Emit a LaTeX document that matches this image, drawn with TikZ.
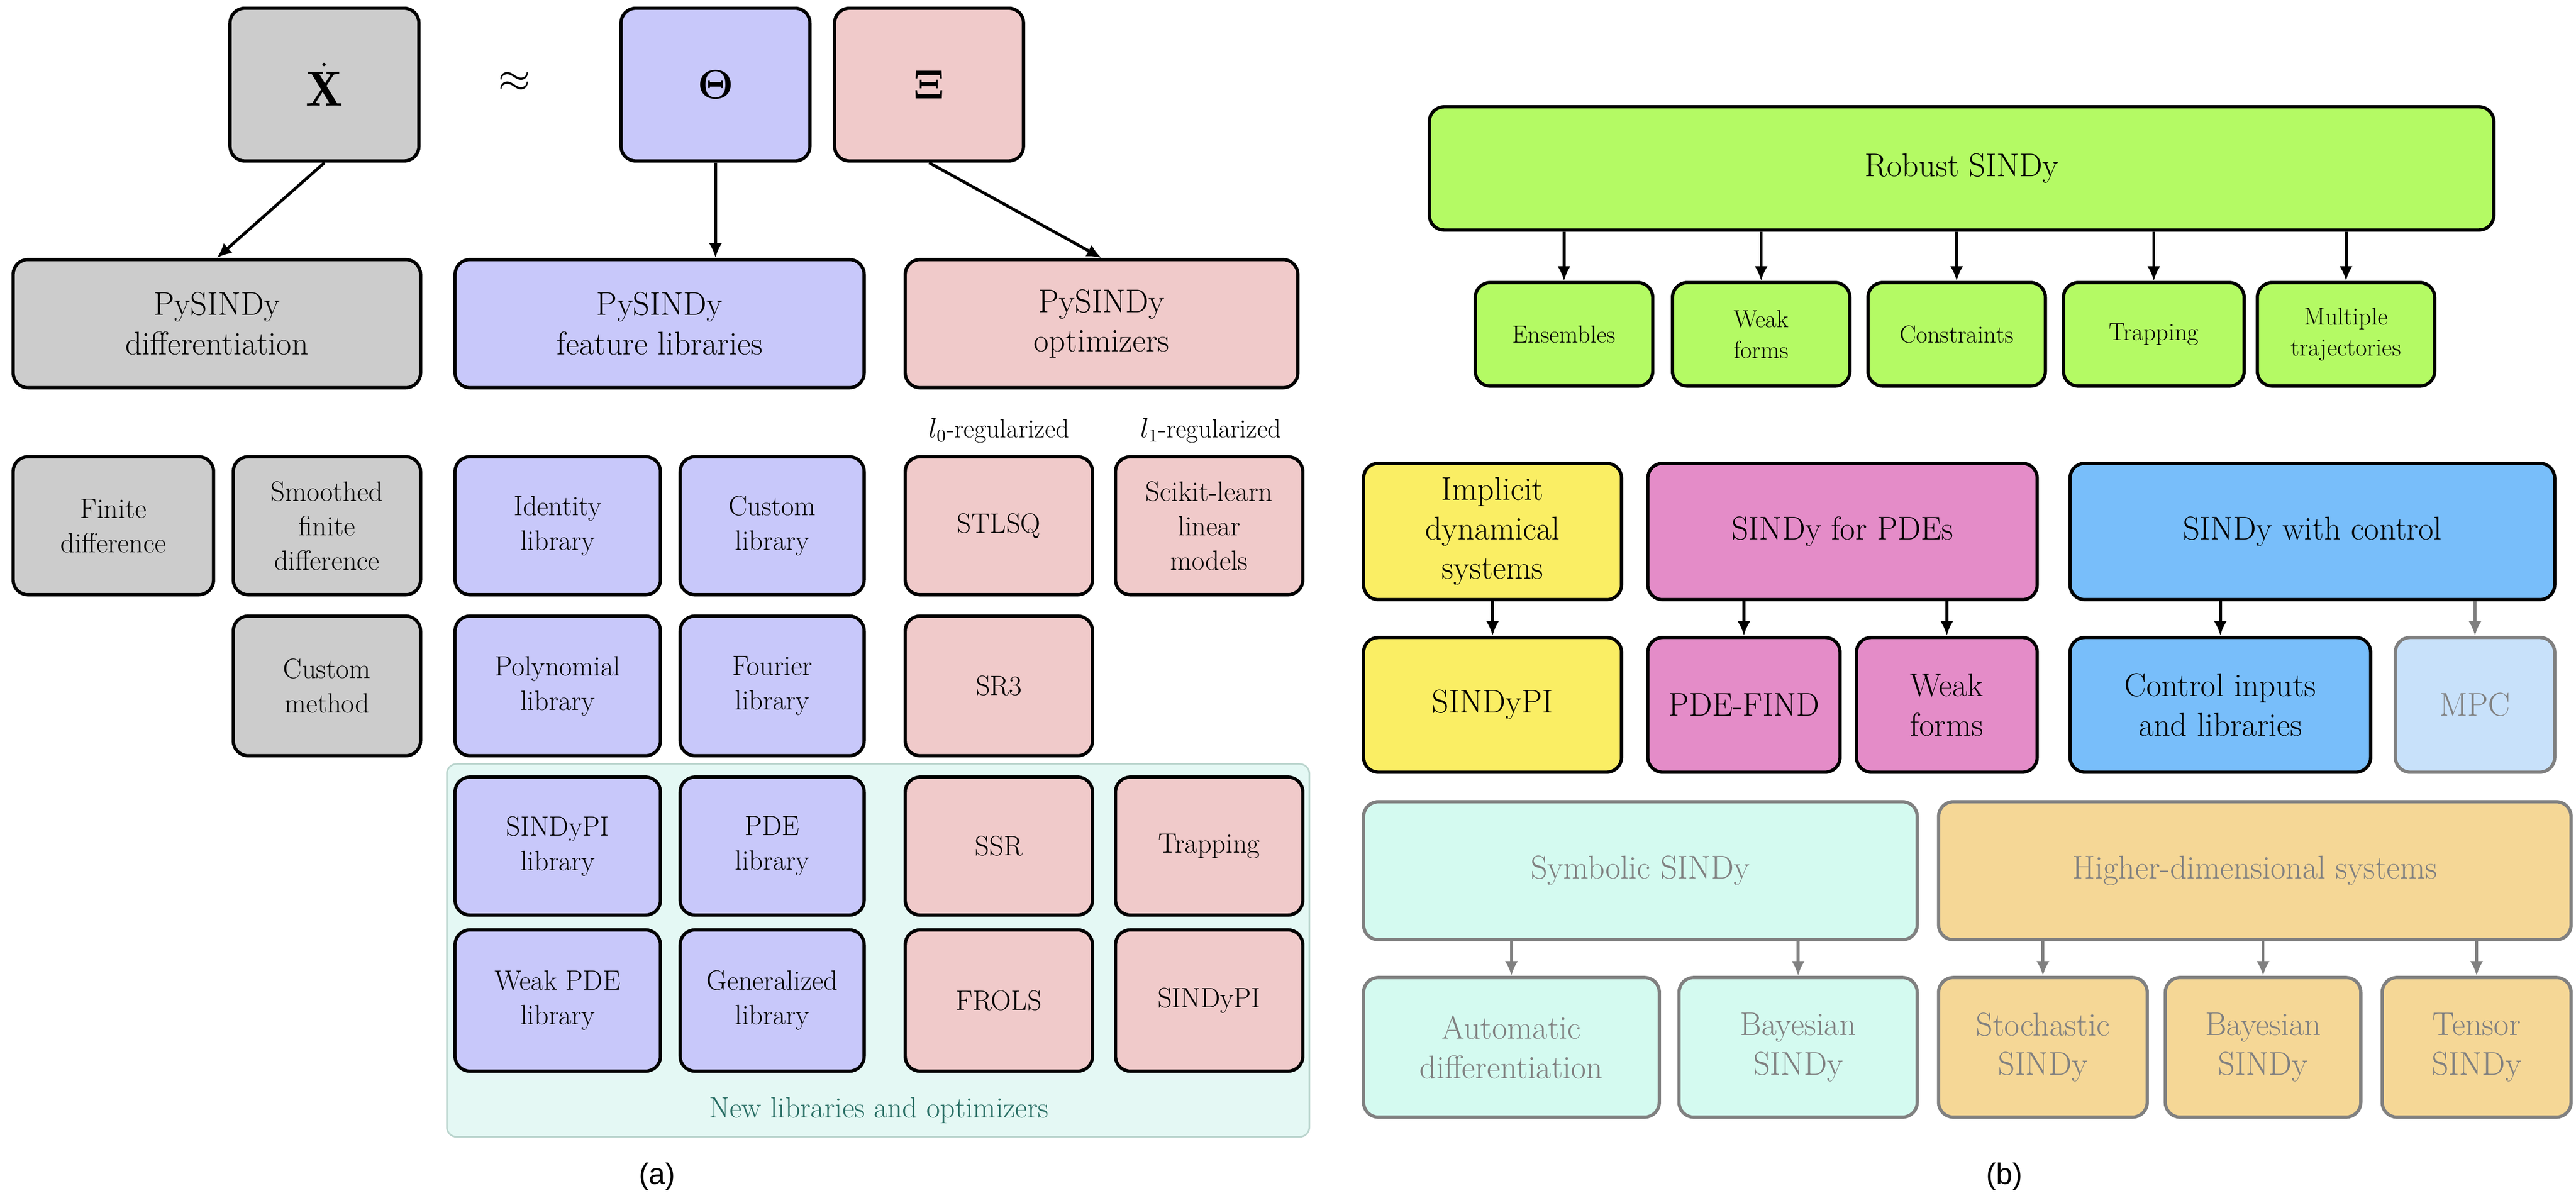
\documentclass[tikz,border=0pt]{standalone}
\usepackage{amsmath,bm}
\usepackage{fontspec}
\newfontfamily\sansf{Liberation Sans}
\usetikzlibrary{arrows.meta}
\definecolor{mygray}{RGB}{204,204,204}
\definecolor{myblue}{RGB}{200,200,250}
\definecolor{mypink}{RGB}{240,202,202}
\definecolor{mygreen}{RGB}{180,250,100}
\definecolor{myyellow}{RGB}{250,238,100}
\definecolor{mymagenta}{RGB}{228,140,200}
\definecolor{myctrl}{RGB}{120,190,250}
\definecolor{myfadeblue}{RGB}{200,225,250}
\definecolor{myteal}{RGB}{212,250,240}
\definecolor{myorange}{RGB}{245,215,150}
\definecolor{myfade}{RGB}{128,128,128}
\definecolor{mynew}{RGB}{228,248,244}
\definecolor{mynewtext}{RGB}{40,110,100}
% box from corner (x1,y1) to corner (x2,y2)
\newcommand{\bnode}[7]{\node[box,#1,minimum width={(#5-#3)*1pt},minimum height={(#6-#4)*1pt}] (#2) at ({(#3+#5)/2},{(#4+#6)/2}) {#7};}

\begin{document}
\begin{tikzpicture}[x=1pt,y=-1pt,
    box/.style={draw,rounded corners=9pt,line width=2pt,align=center,inner sep=2pt,font=\fontsize{17}{21}\selectfont},
    big/.style={font=\fontsize{20}{24}\selectfont},
    small/.style={font=\fontsize{15}{19}\selectfont},
    faded/.style={draw=myfade,text=myfade},
    arr/.style={-{Latex[length=9pt,width=8pt]},line width=1.8pt},
    farr/.style={arr,myfade}]
  \useasboundingbox (0,0) rectangle (1568,732);

  % panel (a)
  \bnode{fill=mygray,font=\fontsize{30}{30}\selectfont}{xdot}{140}{5}{255}{98}{$\dot{\mathbf X}$}
  \node[font=\fontsize{24}{24}\selectfont] (approx) at (313,50) {$\approx$};
  \bnode{fill=myblue,font=\fontsize{30}{30}\selectfont}{theta}{378}{5}{493}{98}{$\bm\Theta$}
  \bnode{fill=mypink,font=\fontsize{30}{30}\selectfont}{xi}{508}{5}{623}{98}{$\bm\Xi$}

  \bnode{fill=mygray,big}{diff}{8}{158}{256}{236}{PySINDy\\differentiation}
  \bnode{fill=myblue,big}{feat}{277}{158}{526}{236}{PySINDy\\feature libraries}
  \bnode{fill=mypink,big}{opt}{551}{158}{790}{236}{PySINDy\\optimizers}
  \draw[arr] (xdot.south) -- (diff.north);
  \draw[arr] (theta.south) -- (theta.south |- feat.north);
  \draw[arr] (xi.south) -- (opt.north);

  \node[font=\fontsize{16}{18}\selectfont] (lzero) at (608,262) {$l_0$-regularized};
  \node[font=\fontsize{16}{18}\selectfont] (lone) at (737,262) {$l_1$-regularized};

  \fill[mynew,rounded corners=6pt] (272,465) rectangle (797,692);
  \draw[myteal!70!gray,line width=1pt,rounded corners=6pt] (272,465) rectangle (797,692);
  \node[text=mynewtext,font=\fontsize{18}{20}\selectfont] (newlab) at (535,676) {New libraries and optimizers};

  \bnode{fill=mygray}{fd}{8}{278}{130}{362}{Finite\\difference}
  \bnode{fill=mygray}{sfd}{142}{278}{256}{362}{Smoothed\\finite\\difference}
  \bnode{fill=mygray}{cm}{142}{375}{256}{460}{Custom\\method}
  \bnode{fill=myblue}{idl}{277}{278}{402}{362}{Identity\\library}
  \bnode{fill=myblue}{cul}{414}{278}{526}{362}{Custom\\library}
  \bnode{fill=myblue}{pol}{277}{375}{402}{460}{Polynomial\\library}
  \bnode{fill=myblue}{fol}{414}{375}{526}{460}{Fourier\\library}
  \bnode{fill=myblue}{spl}{277}{473}{402}{557}{SINDyPI\\library}
  \bnode{fill=myblue}{pdl}{414}{473}{526}{557}{PDE\\library}
  \bnode{fill=myblue}{wpl}{277}{566}{402}{652}{Weak PDE\\library}
  \bnode{fill=myblue}{gel}{414}{566}{526}{652}{Generalized\\library}
  \bnode{fill=mypink}{stl}{551}{278}{665}{362}{STLSQ}
  \bnode{fill=mypink}{skl}{679}{278}{793}{362}{Scikit-learn\\linear\\models}
  \bnode{fill=mypink}{srt}{551}{375}{665}{460}{SR3}
  \bnode{fill=mypink}{ssr}{551}{473}{665}{557}{SSR}
  \bnode{fill=mypink}{tro}{679}{473}{793}{557}{Trapping}
  \bnode{fill=mypink}{fro}{551}{566}{665}{652}{FROLS}
  \bnode{fill=mypink}{spo}{679}{566}{793}{652}{SINDyPI}
  \node[font=\sansf\fontsize{18}{20}\selectfont] (cap-a) at (400,716) {(a)};

  % panel (b)
  \bnode{fill=mygreen,big}{rob}{870}{65}{1518}{140}{Robust SINDy}
  \foreach \name/\xa/\xb/\txt in {ens/898/1006/Ensembles,wkf/1018/1126/Weak\\forms,con/1137/1245/Constraints,trp/1256/1366/Trapping,mul/1374/1482/Multiple\\trajectories}{
    \bnode{fill=mygreen,small}{\name}{\xa}{172}{\xb}{235}{\txt}
    \draw[arr] (rob.south -| \name.north) -- (\name.north);
  }

  \bnode{fill=myyellow,big}{imp}{830}{282}{987}{365}{Implicit\\dynamical\\systems}
  \bnode{fill=myyellow,big}{sip}{830}{388}{987}{470}{SINDyPI}
  \bnode{fill=mymagenta,big}{pde}{1003}{282}{1240}{365}{SINDy for PDEs}
  \bnode{fill=mymagenta,big}{pdf}{1003}{388}{1120}{470}{PDE-FIND}
  \bnode{fill=mymagenta,big}{wfp}{1130}{388}{1240}{470}{Weak\\forms}
  \bnode{fill=myctrl,big}{ctl}{1260}{282}{1555}{365}{SINDy with control}
  \bnode{fill=myctrl,big}{cil}{1260}{388}{1443}{470}{Control inputs\\and libraries}
  \bnode{fill=myfadeblue,faded,big}{mpc}{1458}{388}{1555}{470}{MPC}
  \draw[arr] (imp) -- (sip);
  \draw[arr] (pde.south -| pdf.north) -- (pdf.north);
  \draw[arr] (pde.south -| wfp.north) -- (wfp.north);
  \draw[arr] (ctl.south -| cil.north) -- (cil.north);
  \draw[farr] (ctl.south -| mpc.north) -- (mpc.north);

  \bnode{fill=myteal,faded,big}{sym}{830}{488}{1167}{572}{Symbolic SINDy}
  \bnode{fill=myteal,faded,big}{aut}{830}{595}{1010}{680}{Automatic\\differentiation}
  \bnode{fill=myteal,faded,big}{bys}{1022}{595}{1167}{680}{Bayesian\\SINDy}
  \bnode{fill=myorange,faded,big}{hds}{1180}{488}{1565}{572}{Higher-dimensional systems}
  \bnode{fill=myorange,faded,big}{sto}{1180}{595}{1307}{680}{Stochastic\\SINDy}
  \bnode{fill=myorange,faded,big}{byh}{1318}{595}{1437}{680}{Bayesian\\SINDy}
  \bnode{fill=myorange,faded,big}{ten}{1450}{595}{1565}{680}{Tensor\\SINDy}
  \foreach \src/\dst in {sym/aut,sym/bys,hds/sto,hds/byh,hds/ten}
    \draw[farr] (\src.south -| \dst.north) -- (\dst.north);
  \node[font=\sansf\fontsize{18}{20}\selectfont] (cap-b) at (1220,716) {(b)};
\end{tikzpicture}
\end{document}
